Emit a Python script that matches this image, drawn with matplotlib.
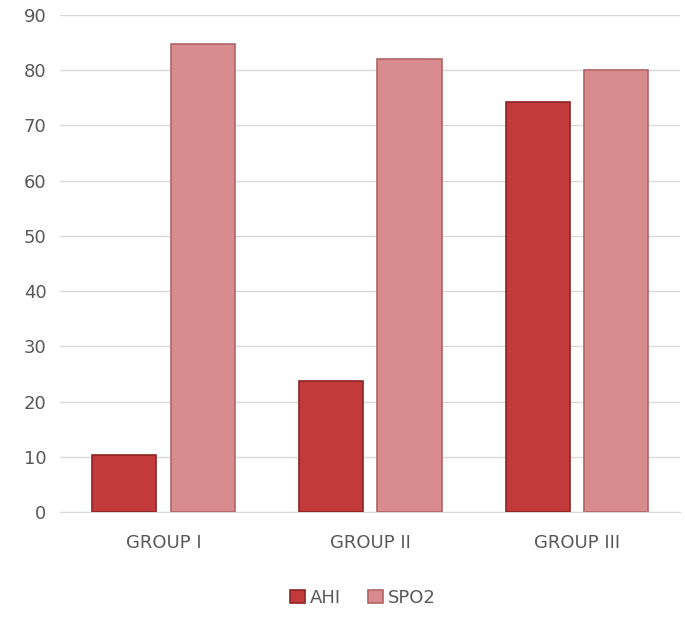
import matplotlib

matplotlib.use("Agg")

import matplotlib.pyplot as plt
import numpy as np

groups = ["GROUP I", "GROUP II", "GROUP III"]
ahi = [10.3, 23.7, 74.2]
spo2 = [84.7, 82.0, 80.0]

fig = plt.figure(figsize=(6.85, 6.23), dpi=100)
ax = fig.add_axes([0.088, 0.178, 0.905, 0.798])

x = np.arange(len(groups))
width = 0.31
ax.bar(x - 0.19, ahi, width, color="#C23A3A", edgecolor="#8E2424", linewidth=1.2, label="AHI", zorder=3)
ax.bar(x + 0.19, spo2, width, color="#D98C8E", edgecolor="#B26466", linewidth=1.2, label="SPO2", zorder=3)

ax.set_ylim(0, 90)
ax.set_yticks(range(0, 91, 10))
ax.set_xlim(-0.5, 2.5)
ax.set_xticks(x)
ax.set_xticklabels(groups)
ax.grid(axis="y", color="#D9D9D9", linewidth=1, zorder=0)
for s in ["top", "right", "left"]:
    ax.spines[s].set_visible(False)
ax.spines["bottom"].set_color("#D9D9D9")
ax.tick_params(length=0, labelsize=13, colors="#595959", pad=10)
ax.tick_params(axis="x", pad=16)

fig.legend(loc="lower center", ncol=2, frameon=False, fontsize=13,
           bbox_to_anchor=(0.53, 0.0), handlelength=0.8, handleheight=0.8,
           columnspacing=1.5, handletextpad=0.3, labelcolor="#595959")

fig.savefig("out.png", dpi=100)
